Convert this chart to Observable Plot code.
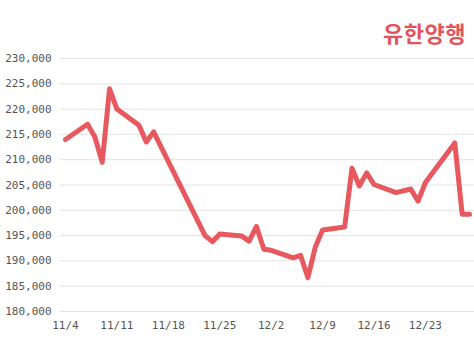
<!DOCTYPE html>
<html>
<head>
<meta charset="utf-8">
<script src="https://cdn.jsdelivr.net/npm/d3@7"></script>
<script src="https://cdn.jsdelivr.net/npm/@observablehq/plot@0.6"></script>
<style>
  html, body { margin: 0; padding: 0; background: #fff; }
  #wrap { position: relative; width: 474px; height: 338px; }
  #title { position: absolute; right: 8px; top: 16px; font-family: "Noto Sans CJK KR", sans-serif; font-weight: 700; font-size: 22px; color: #e2545c; letter-spacing: 0.5px; }
</style>
</head>
<body>
<div id="wrap"><div id="title">유한양행</div></div>
<script>
const title = "유한양행";
const dates = ["2019-11-04","2019-11-07","2019-11-08","2019-11-09","2019-11-10","2019-11-11","2019-11-14","2019-11-15","2019-11-16","2019-11-23","2019-11-24","2019-11-25","2019-11-28","2019-11-29","2019-11-30","2019-12-01","2019-12-02","2019-12-05","2019-12-06","2019-12-07","2019-12-08","2019-12-09","2019-12-12","2019-12-13","2019-12-14","2019-12-15","2019-12-16","2019-12-19","2019-12-21","2019-12-22","2019-12-23","2019-12-27","2019-12-28","2019-12-29"];
const prices = [214000,217000,214500,209500,224000,220000,216800,213500,215500,195000,193800,195300,194900,193900,196800,192300,192100,190600,191100,186700,192700,196100,196700,208300,204800,207400,205100,203500,204200,201800,205500,213300,199200,199200];
const tickDates = ["2019-11-04","2019-11-11","2019-11-18","2019-11-25","2019-12-02","2019-12-09","2019-12-16","2019-12-23"];
const yTicks = [180000,185000,190000,195000,200000,205000,210000,215000,220000,225000,230000];

const data = dates.map((d, i) => ({date: new Date(d), price: prices[i]}));

const chart = Plot.plot({
  width: 474,
  height: 338,
  marginTop: 58,
  marginBottom: 27,
  marginLeft: 60,
  marginRight: 0,
  style: {fontFamily: "DejaVu Sans Mono", fontSize: "11px", color: "#555", background: "transparent"},
  x: {
    type: "utc",
    domain: [new Date("2019-11-04"), new Date("2019-12-29")],
    insetLeft: 5,
    insetRight: 5,
    ticks: tickDates.map(d => new Date(d)),
    tickFormat: d => `${d.getUTCMonth() + 1}/${d.getUTCDate()}`,
    tickSize: 0,
    tickPadding: 10,
    label: null
  },
  y: {
    domain: [180000, 230000],
    ticks: yTicks,
    tickFormat: d => d3.format(",")(d),
    tickSize: 0,
    tickPadding: 9,
    label: null
  },
  marks: [
    Plot.gridY(yTicks, {stroke: "#e3e3e3", strokeOpacity: 1, strokeWidth: 1}),
    Plot.line(data, {x: "date", y: "price", stroke: "#e8595f", strokeWidth: 5, strokeLinejoin: "round", strokeLinecap: "round"})
  ]
});
chart.style.position = "absolute";
chart.style.left = "0";
chart.style.top = "0";
document.getElementById("wrap").prepend(chart);
</script>
</body>
</html>
